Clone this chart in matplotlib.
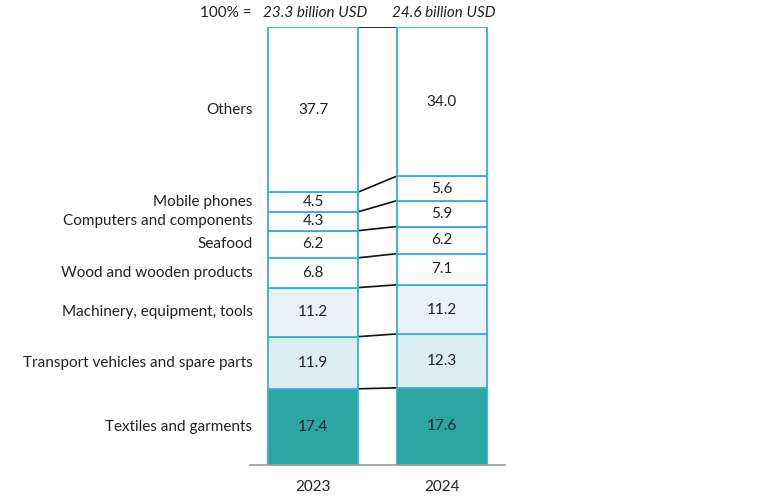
import numpy as np
import matplotlib
matplotlib.use('Agg')
import matplotlib.pyplot as plt

plt.rcParams['font.family'] = ['Lato', 'DejaVu Sans']

categories = ['Textiles and garments', 'Transport vehicles and spare parts',
              'Machinery, equipment, tools', 'Wood and wooden products',
              'Seafood', 'Computers and components', 'Mobile phones', 'Others']
years = ['2023', '2024']
totals = ['23.3 billion USD', '24.6 billion USD']
share_2023 = [17.4, 11.9, 11.2, 6.8, 6.2, 4.3, 4.5, 37.7]
share_2024 = [17.6, 12.3, 11.2, 7.1, 6.2, 5.9, 5.6, 34.0]

fills = ['#2aa7a3', '#dbeef4', '#eaf2f9', 'white', 'white', 'white', 'white', 'white']
edge = '#35aedb'
txt = '#222222'
fs = 11

fig = plt.figure(figsize=(7.68, 5.0), dpi=100)
# axes placed in pixel terms: x 240..520, y 27..465
ax = fig.add_axes([240 / 768, 35 / 500, 280 / 768, 438 / 500])
ax.set_xlim(-0.566, 1.605)
ax.set_ylim(0, 100)
ax.axis('off')

width = 0.70
data = [share_2023, share_2024]
tops = []
for i, vals in enumerate(data):
    bottoms = np.concatenate([[0], np.cumsum(vals)[:-1]])
    ax.bar(i, vals, width=width, bottom=bottoms, color=fills,
           edgecolor=edge, linewidth=1.3, zorder=2)
    for v, b in zip(vals, bottoms):
        ax.text(i, b + v / 2, f'{v:.1f}', ha='center', va='center',
                fontsize=fs, color=txt, zorder=3)
    # scale top so both columns reach 100%
    tops.append(np.cumsum(vals) / np.sum(vals) * 100)

# connectors between segment tops
for t0, t1 in zip(tops[0], tops[1]):
    ax.plot([width / 2, 1 - width / 2], [t0, t1], color='#111111',
            linewidth=1.2, zorder=1, solid_capstyle='butt')

# category labels at 2023 segment centers
cum = np.cumsum(share_2023)
centers = cum - np.array(share_2023) / 2
for name, c in zip(categories, centers):
    ax.text(-0.47, c, name, ha='right', va='center', fontsize=fs, color=txt)

# baseline
ax.plot([-0.49, 1.49], [0, 0], color='#999999', linewidth=1.2,
        zorder=4, clip_on=False)

# year labels
for i, y in enumerate(years):
    ax.text(i, -5, y, ha='center', va='center', fontsize=fs, color=txt)

# totals row
ax.text(-0.48, 103.2, '100% =', ha='right', va='center', fontsize=fs, color=txt)
for i, t in enumerate(totals):
    ax.text(i - width / 2 - 0.04, 103.2, t, ha='left', va='center',
            fontsize=fs, color=txt, style='italic')

fig.savefig('out.png', dpi=100)
